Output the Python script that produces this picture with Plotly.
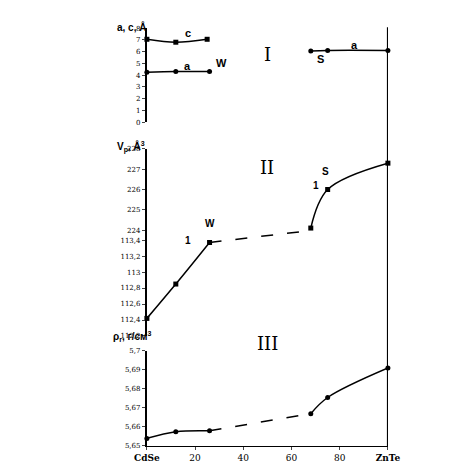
import plotly.graph_objects as go

# Panel I: lattice parameters
c_w_x = [0, 12, 25]; c_w_y = [7.05, 6.8, 7.05]
a_w_x = [0, 12, 26]; a_w_y = [4.25, 4.3, 4.3]
a_s_x = [68, 75, 100]; a_s_y = [6.05, 6.1, 6.1]
# Panel II: cell volume
vw_x = [0, 12, 26]; vw_y = [112.42, 112.85, 113.37]
vdash_x = [26, 68]; vdash_y = [113.37, 113.52]
vs_x = [68, 75, 100]; vs_y = [224.1, 226.0, 227.3]
# Panel III: density
rho_x = [0, 12, 26]; rho_y = [5.654, 5.6575, 5.658]
rdash_x = [26, 68]; rdash_y = [5.658, 5.667]
rs_x = [68, 75, 100]; rs_y = [5.667, 5.6755, 5.691]

fig = go.Figure()
def add(x, y, ax, sym="square", dash="solid", mode="lines+markers"):
    fig.add_trace(go.Scatter(x=x, y=y, xaxis="x", yaxis=ax, mode=mode,
        line=dict(color="black", width=1.5, dash=dash, shape="spline"),
        marker=dict(symbol=sym, size=5, color="black"), showlegend=False, cliponaxis=False))

add(c_w_x, c_w_y, "y", "square")
add(a_w_x, a_w_y, "y", "circle")
add(a_s_x, a_s_y, "y", "circle")
add(vw_x, vw_y, "y2", "square")
add(vdash_x, vdash_y, "y2", dash="12px,14px", mode="lines")
add(vs_x, vs_y, "y3", "square")
add(rho_x, rho_y, "y4", "circle")
add(rdash_x, rdash_y, "y4", dash="12px,14px", mode="lines")
add(rs_x, rs_y, "y4", "circle")

tf = dict(family="DejaVu Serif", size=7, color="black")
common = dict(showgrid=False, zeroline=False, showline=True, linecolor="black", linewidth=2,
              ticks="outside", ticklen=3, tickfont=tf, anchor="x")
fig.update_layout(
    width=474, height=467, margin=dict(l=0, r=0, t=15, b=25),
    plot_bgcolor="white", paper_bgcolor="white",
    xaxis=dict(domain=[0.281, 0.819], range=[0, 100], anchor="y4", showgrid=False, zeroline=False,
               showline=True, linecolor="black", linewidth=1, ticks="outside", ticklen=3,
               tickvals=[0, 20, 40, 60, 80, 100],
               ticktext=["<b>CdSe</b>", "20", "40", "60", "80", "<b>ZnTe</b>"],
               tickfont=dict(family="DejaVu Serif", size=9, color="black")),
    yaxis=dict(domain=[0.768, 0.988], range=[0, 8], tickvals=list(range(9)), **common),
    yaxis2=dict(domain=[0.267, 0.515], range=[112.2, 113.525],
                tickvals=[112.2, 112.4, 112.6, 112.8, 113, 113.2, 113.4],
                ticktext=["112,2", "112,4", "112,6", "112,8", "113", "113,2", "113,4"], **common),
    yaxis3=dict(domain=[0.515, 0.705], range=[224, 228], tickvals=[224, 225, 226, 227, 228], **common),
    yaxis4=dict(domain=[0.0094, 0.232], range=[5.65, 5.70],
                tickvals=[5.65, 5.66, 5.67, 5.68, 5.69, 5.7],
                ticktext=["5,65", "5,66", "5,67", "5,68", "5,69", "5,7"], **common),
)
fig.add_shape(type="line", xref="x", yref="paper", x0=100, x1=100, y0=0.0094, y1=0.99,
              line=dict(color="black", width=2))

def ann(x, y, text, size=11, xref="x", yref="paper", fam="Arial", xanchor="center"):
    fig.add_annotation(x=x, y=y, xref=xref, yref=yref, text=text, showarrow=False,
                       xanchor=xanchor, font=dict(family=fam, size=size, color="black"))
ann(50, 0.955, "Ι", 18, fam="DejaVu Serif")
ann(50, 0.69, "ΙΙ", 18, fam="DejaVu Serif")
ann(50, 0.22, "ΙΙΙ", 18, fam="DejaVu Serif")
ann(0.21, 1.01, "<b>a, c, Å</b>", 10, xref="paper", xanchor="left")
ann(0.21, 0.73, "<b>V<sub>p</sub>, Å<sup>3</sup></b>", 10, xref="paper", xanchor="left")
ann(0.2, 0.245, "<b>ρ<sub>r</sub>, г/см<sup>3</sup></b>", 10, xref="paper", xanchor="left")
ann(17, 7.6, "<b>c</b>", 11, yref="y")
ann(17, 4.8, "<b>a</b>", 11, yref="y")
ann(31, 5.0, "<b>W</b>", 11, yref="y")
ann(86, 6.6, "<b>a</b>", 11, yref="y")
ann(72, 5.4, "<b>S</b>", 11, yref="y")
ann(26, 0.53, "<b>W</b>", 10)
ann(17, 113.4, "<b>1</b>", 10, yref="y2")
ann(74, 226.9, "<b>S</b>", 10, yref="y3")
ann(70, 226.2, "<b>1</b>", 10, yref="y3")
fig.write_html("out.html")
